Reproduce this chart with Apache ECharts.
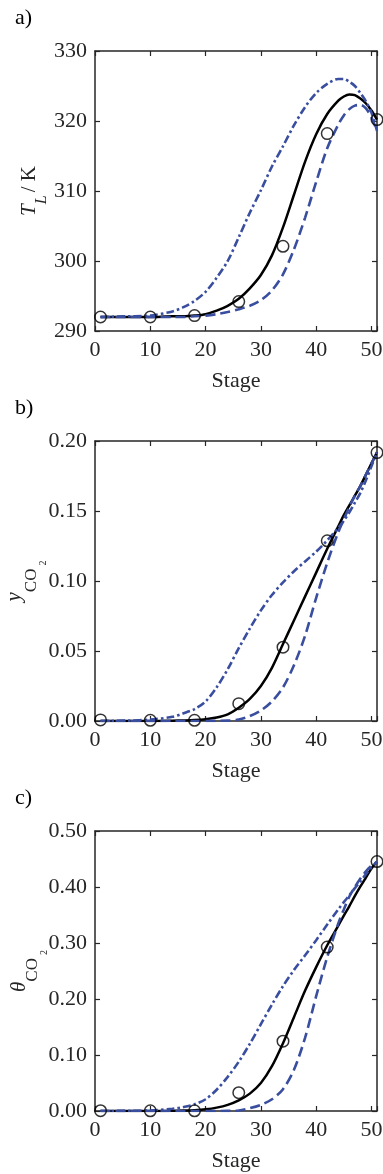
<!DOCTYPE html>
<html>
<head>
<meta charset="utf-8">
<script src="https://cdn.jsdelivr.net/npm/echarts@6/dist/echarts.min.js"></script>
<style>
html,body{margin:0;padding:0;background:#fff;}
#chart{width:383px;height:1174px;}
</style>
</head>
<body>
<div id="chart"></div>
<script>
// ---------- data ----------
const curveStages = [1, 6, 10, 14, 16, 18, 20, 22, 24, 26, 28, 30, 32, 34, 36, 38, 40, 42, 44, 45, 46, 47, 48, 49, 50, 51];
const markerStages = [1, 10, 18, 26, 34, 42, 51];

// panel a) liquid temperature T_L / K
const tempModel  = [292, 292, 292, 292.1, 292.1, 292.2, 292.4, 292.9, 293.6, 294.6, 296.1, 298, 300.8, 304.8, 309.5, 314.2, 318.1, 321, 322.9, 323.5, 323.8, 323.7, 323.2, 322.5, 321.5, 320.2];
const tempUpper  = [292, 292.1, 292.2, 292.8, 293.4, 294.3, 295.6, 297.6, 300, 303.4, 306.9, 310.1, 313.5, 316.4, 319.4, 322, 324, 325.3, 326, 326, 325.6, 325, 324, 322.8, 321.2, 318.6];
const tempLower  = [292, 292, 292, 292, 292, 292.1, 292.2, 292.4, 292.7, 293.1, 293.6, 294.4, 295.8, 298.1, 301.7, 306.2, 311.3, 316.1, 319.5, 320.8, 321.7, 322.2, 322.3, 321.8, 320.5, 318.6];
const tempExp    = [292, 292, 292.2, 294.2, 302.1, 318.2, 320.2];

// panel b) y_CO2
const yModel  = [0, 0, 0, 0.0002, 0.0004, 0.0007, 0.0013, 0.0025, 0.0048, 0.0095, 0.0158, 0.025, 0.038, 0.055, 0.072, 0.089, 0.106, 0.123, 0.139, 0.147, 0.154, 0.161, 0.168, 0.176, 0.184, 0.192];
const yUpper  = [0, 0.0003, 0.001, 0.003, 0.0055, 0.0085, 0.014, 0.024, 0.037, 0.052, 0.066, 0.079, 0.09, 0.099, 0.107, 0.114, 0.121, 0.129, 0.138, 0.143, 0.149, 0.156, 0.163, 0.172, 0.182, 0.192];
const yLower  = [0, 0, 0, 0, 0, 0, 0, 0.0001, 0.0003, 0.001, 0.0035, 0.0075, 0.014, 0.024, 0.04, 0.061, 0.088, 0.113, 0.135, 0.144, 0.153, 0.161, 0.168, 0.176, 0.184, 0.191];
const yExp    = [0.0008, 0.0005, 0.0005, 0.0124, 0.0527, 0.1287, 0.1917];

// panel c) theta_CO2
const thModel = [0, 0, 0, 0.0003, 0.0008, 0.0015, 0.003, 0.006, 0.011, 0.019, 0.031, 0.05, 0.08, 0.121, 0.168, 0.215, 0.257, 0.296, 0.331, 0.349, 0.366, 0.384, 0.401, 0.417, 0.433, 0.445];
const thUpper = [0, 0.0003, 0.001, 0.004, 0.007, 0.012, 0.021, 0.038, 0.061, 0.088, 0.12, 0.155, 0.19, 0.223, 0.252, 0.278, 0.305, 0.333, 0.36, 0.373, 0.385, 0.398, 0.41, 0.423, 0.435, 0.445];
const thLower = [0, 0, 0, 0, 0, 0, 0, 0, 0.0002, 0.001, 0.005, 0.011, 0.021, 0.039, 0.074, 0.131, 0.205, 0.275, 0.335, 0.36, 0.383, 0.4, 0.415, 0.428, 0.438, 0.445];
const thExp   = [0.0005, 0.0003, 0.0003, 0.0327, 0.1247, 0.2928, 0.4454];

const panelLabels = ['a)', 'b)', 'c)'];
const xName = 'Stage';

// ---------- styling ----------
const SERIF = '"Liberation Serif", "DejaVu Serif", serif';
const INK = '#262626';
const BLUE = '#3A4E9F';
const pair = (xs, ys) => xs.map((x, i) => [x, ys[i]]);

const grids = [51, 441, 831].map(t => ({left: 95, top: t, width: 282, height: 280, containLabel: false, outerBoundsMode: 'none'}));

const yCfg = [
  {min: 290, max: 330, interval: 10, fmt: v => String(v),
   name: '{it|T}{sub|L}{n|/ K}', subItalic: true, subSize: 16, subH: 47, sub2H: 47, gap: 30},
  {min: 0, max: 0.2, interval: 0.05, fmt: v => v.toFixed(2),
   name: '{it|y}{sub|CO}{sub2|2}', subItalic: false, subSize: 17, subH: 57, sub2H: 80, gap: 12},
  {min: 0, max: 0.5, interval: 0.1, fmt: v => v.toFixed(2),
   name: '{it|θ}{sub|CO}{sub2|2}', subItalic: false, subSize: 17, subH: 50, sub2H: 72, gap: 15}
];

const xAxes = [], yAxes = [];
grids.forEach((g, i) => {
  xAxes.push({
    gridIndex: i, type: 'value', min: 0, max: 51, interval: 10, position: 'bottom',
    name: xName, nameLocation: 'middle', nameGap: 39, nameMoveOverlap: false,
    nameTextStyle: {fontFamily: SERIF, fontSize: 22, color: INK},
    axisLine: {show: true, onZero: false, lineStyle: {color: INK, width: 1.5}},
    axisTick: {show: true, inside: true, length: 5, lineStyle: {color: INK, width: 1.2}},
    axisLabel: {margin: 8, fontFamily: SERIF, fontSize: 22, color: INK,
      formatter: v => (v % 10 === 0 ? String(v) : '')},
    splitLine: {show: false}
  });
  xAxes.push({
    gridIndex: i, type: 'value', min: 0, max: 51, interval: 10, position: 'top',
    axisLine: {show: true, onZero: false, lineStyle: {color: INK, width: 1.5}},
    axisTick: {show: true, inside: true, length: 5, lineStyle: {color: INK, width: 1.2}},
    axisLabel: {show: false}, splitLine: {show: false}
  });
  const c = yCfg[i];
  yAxes.push({
    gridIndex: i, type: 'value', min: c.min, max: c.max, interval: c.interval, position: 'left',
    name: c.name, nameLocation: 'middle', nameRotate: 90, nameGap: c.gap, nameMoveOverlap: false,
    nameTextStyle: {
      fontFamily: SERIF, color: INK,
      rich: {
        it:   {fontFamily: SERIF, fontStyle: 'italic', fontSize: 21, height: 22, verticalAlign: 'top', color: INK},
        sub:  {fontFamily: SERIF, fontStyle: c.subItalic ? 'italic' : 'normal', fontSize: c.subSize, height: c.subH, verticalAlign: 'top', color: INK},
        sub2: {fontFamily: SERIF, fontSize: 10, height: c.sub2H, verticalAlign: 'top', color: INK, padding: [0, 0, 0, 3]},
        n:    {fontFamily: SERIF, fontSize: 21, height: 22, verticalAlign: 'top', color: INK, padding: [0, 0, 0, 3]}
      }
    },
    axisLine: {show: true, onZero: false, lineStyle: {color: INK, width: 1.5}},
    axisTick: {show: true, inside: true, length: 5, lineStyle: {color: INK, width: 1.2}},
    axisLabel: {margin: 8, fontFamily: SERIF, fontSize: 22, color: INK, formatter: c.fmt},
    splitLine: {show: false}
  });
  yAxes.push({
    gridIndex: i, type: 'value', min: c.min, max: c.max, interval: c.interval, position: 'right',
    axisLine: {show: true, onZero: false, lineStyle: {color: INK, width: 1.5}},
    axisTick: {show: true, inside: true, length: 5, lineStyle: {color: INK, width: 1.2}},
    axisLabel: {show: false}, splitLine: {show: false}
  });
});

const panels = [
  [tempModel, tempUpper, tempLower, tempExp],
  [yModel, yUpper, yLower, yExp],
  [thModel, thUpper, thLower, thExp]
];

const series = [];
panels.forEach((p, i) => {
  const ax = {xAxisIndex: 2 * i, yAxisIndex: 2 * i};
  series.push(Object.assign({
    type: 'line', data: pair(curveStages, p[0]), smooth: 0.3, showSymbol: false, symbol: 'none',
    lineStyle: {color: '#000', width: 2.5, type: 'solid'}, z: 2, silent: true
  }, ax));
  series.push(Object.assign({
    type: 'line', data: pair(curveStages, p[1]), smooth: 0.3, showSymbol: false, symbol: 'none',
    lineStyle: {color: BLUE, width: 2.6, type: [8, 3, 2.5, 3]}, z: 3, silent: true
  }, ax));
  series.push(Object.assign({
    type: 'line', data: pair(curveStages, p[2]), smooth: 0.3, showSymbol: false, symbol: 'none',
    lineStyle: {color: BLUE, width: 2.6, type: [10, 5]}, z: 3, silent: true
  }, ax));
  series.push(Object.assign({
    type: 'scatter', data: pair(markerStages, p[3]), symbol: 'circle', symbolSize: 11.5,
    itemStyle: {color: 'rgba(0,0,0,0)', borderColor: '#000', borderWidth: 1.5}, z: 4, silent: true
  }, ax));
});

const titles = panelLabels.map((t, i) => ({
  text: t, left: 10, top: 2 + 390 * i,
  textStyle: {fontFamily: SERIF, fontSize: 22, fontWeight: 'normal', color: '#000'}
}));

const chart = echarts.init(document.getElementById('chart'), null, {renderer: 'canvas'});
chart.setOption({
  animation: false,
  backgroundColor: '#fff',
  title: titles,
  grid: grids,
  xAxis: xAxes,
  yAxis: yAxes,
  series: series
});
</script>
</body>
</html>
